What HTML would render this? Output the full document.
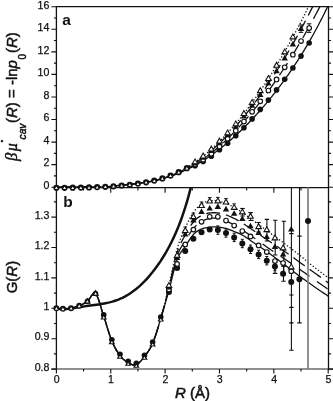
<!DOCTYPE html>
<html><head><meta charset="utf-8"><style>
html,body{margin:0;padding:0;background:#fff;overflow:hidden}
svg{display:block}
</style></head><body>
<svg width="333" height="401" viewBox="0 0 333 401">
<rect width="333" height="401" fill="#fff"/>
<g stroke="#111" stroke-width="1.3" fill="none">
<path d="M56.4,369.6V6.6H328.5V369.6"/>
<path d="M56.4,187.6H328.5" stroke-width="1.2"/>
<path d="M51.4,369H333" stroke-width="1.05" stroke="#222"/>
</g>
<path d="M56.4,187.2h-5M328.5,187.2h5M56.4,175.92h-2.5M328.5,175.92h2.5M56.4,164.64h-5M328.5,164.64h5M56.4,153.36h-2.5M328.5,153.36h2.5M56.4,142.08h-5M328.5,142.08h5M56.4,130.8h-2.5M328.5,130.8h2.5M56.4,119.52h-5M328.5,119.52h5M56.4,108.24h-2.5M328.5,108.24h2.5M56.4,96.96h-5M328.5,96.96h5M56.4,85.68h-2.5M328.5,85.68h2.5M56.4,74.4h-5M328.5,74.4h5M56.4,63.12h-2.5M328.5,63.12h2.5M56.4,51.84h-5M328.5,51.84h5M56.4,40.56h-2.5M328.5,40.56h2.5M56.4,29.28h-5M328.5,29.28h5M56.4,18h-2.5M328.5,18h2.5M56.4,6.72h-5M328.5,6.72h5M56.4,369.1h-5M328.5,369.1h5M56.4,353.9h-2.5M328.5,353.9h2.5M56.4,338.7h-5M328.5,338.7h5M56.4,323.5h-2.5M328.5,323.5h2.5M56.4,308.3h-5M328.5,308.3h5M56.4,293.1h-2.5M328.5,293.1h2.5M56.4,277.9h-5M328.5,277.9h5M56.4,262.7h-2.5M328.5,262.7h2.5M56.4,247.5h-5M328.5,247.5h5M56.4,232.3h-2.5M328.5,232.3h2.5M56.4,217.1h-5M328.5,217.1h5M56.4,201.9h-2.5M328.5,201.9h2.5M56.4,369v4.5M83.58,369v2.4M83.58,187.6v3M110.76,369v4.5M110.76,187.6v5.2M137.94,369v2.4M137.94,187.6v3M165.12,369v4.5M165.12,187.6v5.2M192.3,369v2.4M192.3,187.6v3M219.48,369v4.5M219.48,187.6v5.2M246.66,369v2.4M246.66,187.6v3M273.84,369v4.5M273.84,187.6v5.2M301.02,369v2.4M301.02,187.6v3M328.2,369v4.5" stroke="#111" stroke-width="1.1" fill="none"/>
<g font-family="Liberation Sans, Arial, sans-serif" font-size="10.6" fill="#111" stroke="#111" stroke-width="0.25" text-anchor="end">
<text x="49.4" y="189">0</text>
<text x="49.4" y="166.44">2</text>
<text x="49.4" y="143.88">4</text>
<text x="49.4" y="121.32">6</text>
<text x="49.4" y="98.76">8</text>
<text x="49.4" y="76.2">10</text>
<text x="49.4" y="53.64">12</text>
<text x="49.4" y="31.08">14</text>
<text x="49.4" y="8.52">16</text>
<text x="49.4" y="370.7">0.8</text>
<text x="49.4" y="340.3">0.9</text>
<text x="49.4" y="309.9">1</text>
<text x="49.4" y="279.5">1.1</text>
<text x="49.4" y="249.1">1.2</text>
<text x="49.4" y="218.7">1.3</text>
</g>
<g font-family="Liberation Sans, Arial, sans-serif" font-size="10.6" fill="#111" stroke="#111" stroke-width="0.25" text-anchor="middle">
<text x="56.7" y="382.9">0</text>
<text x="111.06" y="382.9">1</text>
<text x="165.42" y="382.9">2</text>
<text x="219.78" y="382.9">3</text>
<text x="274.14" y="382.9">4</text>
<text x="328.5" y="382.9">5</text>
</g>
<text x="175" y="397.6" font-family="Liberation Sans, Arial, sans-serif" font-size="15" fill="#111" stroke="#111" stroke-width="0.5"><tspan font-style="italic">R</tspan> (Å)</text>
<text transform="translate(17.4,293.3) rotate(-90)" font-family="Liberation Sans, Arial, sans-serif" font-size="15" fill="#111" stroke="#111" stroke-width="0.5">G(<tspan font-style="italic">R</tspan>)</text>
<g transform="translate(17.4,161.3) rotate(-90)">
<text font-family="Liberation Sans, Arial, sans-serif" font-size="15" fill="#111" stroke="#111" stroke-width="0.5"><tspan x="0.3" y="0" font-family="Liberation Serif, serif" font-style="italic" font-size="16.5">β</tspan><tspan x="10" y="0" font-family="Liberation Serif, serif" font-style="italic" font-size="16">μ</tspan><tspan x="19" y="-12.5" font-size="6">*</tspan><tspan x="21.9" y="8.6" font-size="10.2" font-style="italic">cav</tspan><tspan x="38.3" y="0">(<tspan font-style="italic">R</tspan>) = -ln<tspan font-style="italic">p</tspan></tspan><tspan x="101.9" y="8.8" font-size="10">0</tspan><tspan x="108.3" y="0">(<tspan font-style="italic">R</tspan>)</tspan></text>
</g>
<text x="62.3" y="25.3" font-family="Liberation Sans, Arial, sans-serif" font-size="15.5" font-weight="bold" fill="#111">a</text>
<text x="63.2" y="206.9" font-family="Liberation Sans, Arial, sans-serif" font-size="15.5" font-weight="bold" fill="#111">b</text>
<defs><clipPath id="ca"><rect x="56.4" y="6.6" width="272.1" height="180.6"/></clipPath>
<clipPath id="cb"><rect x="56.4" y="187.2" width="272.1" height="181.8"/></clipPath></defs>
<g clip-path="url(#ca)" fill="none" stroke="#111" stroke-width="1.3">
<path d="M331.82,-2.43 L330.32,0.85 L328.82,4.08 L327.32,7.25 L325.82,10.36 L324.32,13.43 L322.82,16.44 L321.32,19.41 L319.82,22.32 L318.32,25.2 L316.82,28.02 L315.32,30.8 L313.82,33.54 L312.32,36.24 L310.82,38.9 L309.32,41.52 L307.82,44.1 L306.32,46.64 L304.82,49.14 L303.32,51.61 L301.82,54.05 L300.32,56.45 L298.82,58.82 L297.32,61.16 L295.82,63.46 L294.32,65.73 L292.82,67.98 L291.32,70.19 L289.82,72.38 L288.32,74.54 L286.82,76.67 L285.32,78.77 L283.82,80.85 L282.32,82.9 L280.82,84.92 L279.32,86.92 L277.82,88.9 L276.32,90.85 L274.82,92.78 L273.32,94.68 L271.82,96.56 L270.32,98.42 L268.82,100.26 L267.32,102.07 L265.82,103.86 L264.32,105.63 L262.82,107.38 L261.32,109.11 L259.82,110.82 L258.32,112.5 L256.82,114.17 L255.32,115.81 L253.82,117.44 L252.32,119.04 L250.82,120.63 L249.32,122.19 L247.82,123.74 L246.32,125.26 L244.82,126.76 L243.32,128.25 L241.82,129.71 L240.32,131.16 L238.82,132.58 L237.32,133.99 L235.82,135.37 L234.32,136.74 L232.82,138.09 L231.32,139.41 L229.82,140.72 L228.32,142.01 L226.82,143.27 L225.32,144.52 L223.82,145.75 L222.32,146.96 L220.82,148.14 L219.32,149.31 L217.82,150.46 L216.32,151.58 L214.82,152.69 L213.32,153.78 L211.82,154.84 L210.32,155.89 L208.82,156.92 L207.32,157.92 L205.82,158.9 L204.32,159.87 L202.82,160.81 L201.32,161.74 L199.82,162.64 L198.32,163.52 L196.82,164.38 L195.32,165.22 L193.82,166.04 L192.32,166.84 L190.82,167.62 L189.32,168.38 L187.82,169.12 L186.32,169.84 L184.82,170.53 L183.32,171.21 L181.82,171.87 L180.32,172.51 L178.82,173.12 L177.32,173.72 L175.82,174.3 L174.32,174.86 L172.82,175.4 L171.32,175.92 L169.82,176.43 L168.32,176.91 L166.82,177.38 L165.32,177.83 L163.82,178.26 L162.32,178.67 L160.82,179.07 L159.32,179.45 L157.82,179.81 L156.32,180.16 L154.82,180.49 L153.32,180.81 L151.82,181.11 L150.32,181.4 L148.82,181.68 L147.32,181.94 L145.82,182.19 L144.32,182.43 L142.82,182.66 L141.32,182.88 L139.82,183.09 L138.32,183.29 L136.82,183.48 L135.32,183.67 L133.82,183.85 L132.32,184.02 L130.82,184.19 L129.32,184.35 L127.82,184.51 L126.32,184.67 L124.82,184.83 L123.32,184.99 L121.82,185.15 L120.32,185.31 L118.82,185.48 L117.32,185.65 L115.82,185.82 L114.32,186.01 L112.82,186.2 L111.32,186.4 L109.82,186.62 L108.32,186.84 L106.82,187.08 L105.32,187.34 L80.86,187 L56.4,187.2" />
<path d="M324.32,-2.19 L322.82,0.8 L321.32,3.76 L319.82,6.69 L318.32,9.59 L316.82,12.45 L315.32,15.29 L313.82,18.1 L312.32,20.88 L310.82,23.63 L309.32,26.35 L307.82,29.05 L306.32,31.71 L304.82,34.36 L303.32,36.97 L301.82,39.56 L300.32,42.12 L298.82,44.66 L297.32,47.18 L295.82,49.66 L294.32,52.13 L292.82,54.57 L291.32,56.99 L289.82,59.38 L288.32,61.75 L286.82,64.09 L285.32,66.42 L283.82,68.72 L282.32,70.99 L280.82,73.25 L279.32,75.48 L277.82,77.69 L276.32,79.87 L274.82,82.04 L273.32,84.18 L271.82,86.3 L270.32,88.4 L268.82,90.47 L267.32,92.53 L265.82,94.56 L264.32,96.57 L262.82,98.55 L261.32,100.52 L259.82,102.46 L258.32,104.38 L256.82,106.28 L255.32,108.15 L253.82,110.01 L252.32,111.84 L250.82,113.65 L249.32,115.44 L247.82,117.2 L246.32,118.94 L244.82,120.66 L243.32,122.35 L241.82,124.03 L240.32,125.68 L238.82,127.3 L237.32,128.91 L235.82,130.49 L234.32,132.05 L232.82,133.58 L231.32,135.09 L229.82,136.58 L228.32,138.04 L226.82,139.48 L225.32,140.9 L223.82,142.29 L222.32,143.66 L220.82,145 L219.32,146.32 L217.82,147.61 L216.32,148.89 L214.82,150.13 L213.32,151.36 L211.82,152.55 L210.32,153.73 L208.82,154.88 L207.32,156 L205.82,157.1 L204.32,158.18 L202.82,159.23 L201.32,160.26 L199.82,161.26 L198.32,162.24 L196.82,163.19 L195.32,164.12 L193.82,165.02 L192.32,165.91 L190.82,166.76 L189.32,167.6 L187.82,168.4 L186.32,169.19 L184.82,169.95 L183.32,170.69 L181.82,171.4 L180.32,172.1 L178.82,172.76 L177.32,173.41 L175.82,174.03 L174.32,174.64 L172.82,175.22 L171.32,175.77 L169.82,176.31 L168.32,176.83 L166.82,177.32 L165.32,177.8 L163.82,178.25 L162.32,178.69 L160.82,179.1 L159.32,179.5 L157.82,179.88 L156.32,180.24 L154.82,180.59 L153.32,180.92 L151.82,181.23 L150.32,181.53 L148.82,181.81 L147.32,182.07 L145.82,182.33 L144.32,182.57 L142.82,182.8 L141.32,183.02 L139.82,183.22 L138.32,183.42 L136.82,183.61 L135.32,183.79 L133.82,183.96 L132.32,184.13 L130.82,184.29 L129.32,184.44 L127.82,184.6 L126.32,184.75 L124.82,184.89 L123.32,185.04 L121.82,185.19 L120.32,185.34 L118.82,185.5 L117.32,185.66 L115.82,185.82 L114.32,185.99 L112.82,186.17 L111.32,186.36 L109.82,186.56 L108.32,186.77 L106.82,187 L105.32,187.24 L80.86,187 L56.4,187.2" stroke-dasharray="14.5,7.5" stroke-dashoffset="12.94"/>
<path d="M318.32,-4.97 L316.82,-1.83 L315.32,1.27 L313.82,4.34 L312.32,7.38 L310.82,10.38 L309.32,13.35 L307.82,16.28 L306.32,19.19 L304.82,22.06 L303.32,24.91 L301.82,27.72 L300.32,30.51 L298.82,33.26 L297.32,35.99 L295.82,38.69 L294.32,41.36 L292.82,44 L291.32,46.62 L289.82,49.21 L288.32,51.78 L286.82,54.32 L285.32,56.83 L283.82,59.32 L282.32,61.78 L280.82,64.22 L279.32,66.63 L277.82,69.02 L276.32,71.39 L274.82,73.73 L273.32,76.04 L271.82,78.33 L270.32,80.6 L268.82,82.85 L267.32,85.07 L265.82,87.26 L264.32,89.44 L262.82,91.59 L261.32,93.71 L259.82,95.81 L258.32,97.89 L256.82,99.95 L255.32,101.98 L253.82,103.98 L252.32,105.97 L250.82,107.93 L249.32,109.86 L247.82,111.77 L246.32,113.66 L244.82,115.52 L243.32,117.36 L241.82,119.18 L240.32,120.97 L238.82,122.73 L237.32,124.48 L235.82,126.19 L234.32,127.88 L232.82,129.55 L231.32,131.19 L229.82,132.81 L228.32,134.4 L226.82,135.97 L225.32,137.51 L223.82,139.02 L222.32,140.51 L220.82,141.98 L219.32,143.42 L217.82,144.83 L216.32,146.21 L214.82,147.57 L213.32,148.91 L211.82,150.21 L210.32,151.49 L208.82,152.75 L207.32,153.98 L205.82,155.18 L204.32,156.35 L202.82,157.5 L201.32,158.62 L199.82,159.72 L198.32,160.78 L196.82,161.82 L195.32,162.84 L193.82,163.83 L192.32,164.79 L190.82,165.73 L189.32,166.63 L187.82,167.52 L186.32,168.37 L184.82,169.2 L183.32,170.01 L181.82,170.79 L180.32,171.54 L178.82,172.27 L177.32,172.97 L175.82,173.65 L174.32,174.3 L172.82,174.93 L171.32,175.53 L169.82,176.11 L168.32,176.67 L166.82,177.21 L165.32,177.72 L163.82,178.2 L162.32,178.67 L160.82,179.12 L159.32,179.54 L157.82,179.94 L156.32,180.33 L154.82,180.69 L153.32,181.04 L151.82,181.36 L150.32,181.67 L148.82,181.96 L147.32,182.24 L145.82,182.5 L144.32,182.74 L142.82,182.98 L141.32,183.19 L139.82,183.4 L138.32,183.59 L136.82,183.78 L135.32,183.95 L133.82,184.11 L132.32,184.27 L130.82,184.42 L129.32,184.56 L127.82,184.7 L126.32,184.84 L124.82,184.97 L123.32,185.11 L121.82,185.24 L120.32,185.38 L118.82,185.51 L117.32,185.66 L115.82,185.81 L114.32,185.96 L112.82,186.12 L111.32,186.3 L109.82,186.49 L108.32,186.68 L106.82,186.9 L105.32,187.13 L80.86,187 L56.4,187.2" stroke-dasharray="11,6" stroke-dashoffset="5.24"/>
<path d="M313.82,-4.45 L312.32,-1.28 L310.82,1.86 L309.32,4.96 L307.82,8.04 L306.32,11.08 L304.82,14.09 L303.32,17.07 L301.82,20.02 L300.32,22.94 L298.82,25.83 L297.32,28.69 L295.82,31.52 L294.32,34.33 L292.82,37.11 L291.32,39.86 L289.82,42.58 L288.32,45.28 L286.82,47.95 L285.32,50.59 L283.82,53.21 L282.32,55.8 L280.82,58.36 L279.32,60.9 L277.82,63.42 L276.32,65.91 L274.82,68.37 L273.32,70.81 L271.82,73.22 L270.32,75.61 L268.82,77.97 L267.32,80.31 L265.82,82.63 L264.32,84.91 L262.82,87.18 L261.32,89.42 L259.82,91.63 L258.32,93.82 L256.82,95.98 L255.32,98.12 L253.82,100.23 L252.32,102.32 L250.82,104.38 L249.32,106.42 L247.82,108.43 L246.32,110.42 L244.82,112.38 L243.32,114.31 L241.82,116.22 L240.32,118.1 L238.82,119.96 L237.32,121.79 L235.82,123.6 L234.32,125.37 L232.82,127.13 L231.32,128.85 L229.82,130.55 L228.32,132.22 L226.82,133.87 L225.32,135.48 L223.82,137.07 L222.32,138.64 L220.82,140.17 L219.32,141.68 L217.82,143.16 L216.32,144.62 L214.82,146.04 L213.32,147.44 L211.82,148.81 L210.32,150.16 L208.82,151.47 L207.32,152.76 L205.82,154.02 L204.32,155.25 L202.82,156.45 L201.32,157.62 L199.82,158.77 L198.32,159.89 L196.82,160.98 L195.32,162.04 L193.82,163.08 L192.32,164.08 L190.82,165.06 L189.32,166.01 L187.82,166.94 L186.32,167.83 L184.82,168.7 L183.32,169.54 L181.82,170.36 L180.32,171.14 L178.82,171.91 L177.32,172.64 L175.82,173.35 L174.32,174.03 L172.82,174.69 L171.32,175.32 L169.82,175.92 L168.32,176.51 L166.82,177.06 L165.32,177.6 L163.82,178.11 L162.32,178.59 L160.82,179.06 L159.32,179.5 L157.82,179.92 L156.32,180.32 L154.82,180.7 L153.32,181.06 L151.82,181.39 L150.32,181.71 L148.82,182.02 L147.32,182.3 L145.82,182.57 L144.32,182.82 L142.82,183.06 L141.32,183.28 L139.82,183.49 L138.32,183.69 L136.82,183.87 L135.32,184.05 L133.82,184.21 L132.32,184.37 L130.82,184.52 L129.32,184.66 L127.82,184.8 L126.32,184.93 L124.82,185.06 L123.32,185.18 L121.82,185.31 L120.32,185.43 L118.82,185.56 L117.32,185.69 L115.82,185.83 L114.32,185.97 L112.82,186.12 L111.32,186.28 L109.82,186.45 L108.32,186.63 L106.82,186.83 L105.32,187.04 L80.86,187 L56.4,187.2" stroke-dasharray="1.3,1.9" stroke-dashoffset="1.75"/>
</g>
<g><path d="M301,24.9V32.4M298.8,24.9h4.4M298.8,32.4h4.4M309.1,23.8V32.4M306.9,23.8h4.4M306.9,32.4h4.4" stroke="#111" stroke-width="1" fill="none"/><circle cx="56.4" cy="187.8" r="3.1" fill="#111"/><path d="M56.4,186.59L57.85,189.11L54.95,189.11Z" fill="#fff"/><circle cx="64.55" cy="187.8" r="3.1" fill="#111"/><path d="M64.55,186.59L66,189.11L63.1,189.11Z" fill="#fff"/><circle cx="72.71" cy="187.7" r="3.1" fill="#111"/><path d="M72.71,186.49L74.16,189.01L71.26,189.01Z" fill="#fff"/><circle cx="80.86" cy="187.6" r="3.1" fill="#111"/><path d="M80.86,186.39L82.31,188.91L79.41,188.91Z" fill="#fff"/><circle cx="89.02" cy="187.4" r="3.1" fill="#111"/><path d="M89.02,186.19L90.47,188.71L87.57,188.71Z" fill="#fff"/><circle cx="97.17" cy="187.1" r="3.1" fill="#111"/><path d="M97.17,185.89L98.62,188.41L95.72,188.41Z" fill="#fff"/><circle cx="105.32" cy="186.8" r="3.1" fill="#111"/><path d="M105.32,185.59L106.77,188.11L103.87,188.11Z" fill="#fff"/><circle cx="113.48" cy="186.3" r="3.1" fill="#111"/><path d="M113.48,185.09L114.93,187.61L112.03,187.61Z" fill="#fff"/><circle cx="121.63" cy="185.5" r="3.1" fill="#111"/><path d="M121.63,184.29L123.08,186.81L120.18,186.81Z" fill="#fff"/><circle cx="129.79" cy="184.8" r="3.1" fill="#111"/><path d="M129.79,183.59L131.24,186.11L128.34,186.11Z" fill="#fff"/><circle cx="137.94" cy="183.6" r="3.1" fill="#111"/><path d="M137.94,182.39L139.39,184.91L136.49,184.91Z" fill="#fff"/><circle cx="146.09" cy="182.3" r="3.1" fill="#111"/><path d="M146.09,181.09L147.54,183.61L144.64,183.61Z" fill="#fff"/><circle cx="154.25" cy="180.6" r="3.1" fill="#111"/><path d="M154.25,179.39L155.7,181.91L152.8,181.91Z" fill="#fff"/><circle cx="162.4" cy="178.4" r="3.1" fill="#111"/><path d="M162.4,177.19L163.85,179.71L160.95,179.71Z" fill="#fff"/><circle cx="170.56" cy="175.6" r="3.1" fill="#111"/><path d="M170.56,174.39L172.01,176.91L169.11,176.91Z" fill="#fff"/><circle cx="178.71" cy="172.2" r="3.1" fill="#111"/><path d="M178.71,170.99L180.16,173.51L177.26,173.51Z" fill="#fff"/><circle cx="186.86" cy="168.2" r="3.1" fill="#111"/><path d="M186.86,166.99L188.31,169.51L185.41,169.51Z" fill="#fff"/><circle cx="195.02" cy="165.8" r="2.8" fill="#111"/><circle cx="195.02" cy="164.6" r="2.3" fill="#fff" stroke="#111" stroke-width="1.15"/><path d="M195.02,159.85L198.22,165.42L191.82,165.42Z" fill="#111"/><path d="M195.02,158.98L197.82,163.85L192.22,163.85Z" fill="#fff" stroke="#111" stroke-width="1.1" stroke-linejoin="miter"/><circle cx="203.17" cy="161.4" r="2.8" fill="#111"/><circle cx="203.17" cy="159.8" r="2.3" fill="#fff" stroke="#111" stroke-width="1.15"/><path d="M203.17,154.15L206.37,159.72L199.97,159.72Z" fill="#111"/><path d="M203.17,153.08L205.97,157.95L200.37,157.95Z" fill="#fff" stroke="#111" stroke-width="1.1" stroke-linejoin="miter"/><circle cx="211.33" cy="156.2" r="2.8" fill="#111"/><circle cx="211.33" cy="153.8" r="2.3" fill="#fff" stroke="#111" stroke-width="1.15"/><path d="M211.33,147.35L214.53,152.92L208.13,152.92Z" fill="#111"/><path d="M211.33,146.18L214.13,151.05L208.53,151.05Z" fill="#fff" stroke="#111" stroke-width="1.1" stroke-linejoin="miter"/><circle cx="219.48" cy="149.8" r="2.8" fill="#111"/><circle cx="219.48" cy="146.4" r="2.3" fill="#fff" stroke="#111" stroke-width="1.15"/><path d="M219.48,139.75L222.68,145.32L216.28,145.32Z" fill="#111"/><path d="M219.48,138.18L222.28,143.05L216.68,143.05Z" fill="#fff" stroke="#111" stroke-width="1.1" stroke-linejoin="miter"/><circle cx="227.63" cy="143.2" r="2.8" fill="#111"/><circle cx="227.63" cy="138.8" r="2.3" fill="#fff" stroke="#111" stroke-width="1.15"/><path d="M227.63,131.75L230.83,137.32L224.43,137.32Z" fill="#111"/><path d="M227.63,129.98L230.43,134.85L224.83,134.85Z" fill="#fff" stroke="#111" stroke-width="1.1" stroke-linejoin="miter"/><circle cx="235.79" cy="135.8" r="2.8" fill="#111"/><circle cx="235.79" cy="130.8" r="2.3" fill="#fff" stroke="#111" stroke-width="1.15"/><path d="M235.79,123.15L238.99,128.72L232.59,128.72Z" fill="#111"/><path d="M235.79,120.98L238.59,125.85L232.99,125.85Z" fill="#fff" stroke="#111" stroke-width="1.1" stroke-linejoin="miter"/><circle cx="243.94" cy="127.8" r="2.8" fill="#111"/><circle cx="243.94" cy="121.6" r="2.3" fill="#fff" stroke="#111" stroke-width="1.15"/><path d="M243.94,112.95L247.14,118.52L240.74,118.52Z" fill="#111"/><path d="M243.94,110.58L246.74,115.45L241.14,115.45Z" fill="#fff" stroke="#111" stroke-width="1.1" stroke-linejoin="miter"/><circle cx="252.1" cy="118.9" r="2.8" fill="#111"/><circle cx="252.1" cy="111.8" r="2.3" fill="#fff" stroke="#111" stroke-width="1.15"/><path d="M252.1,102.15L255.3,107.72L248.9,107.72Z" fill="#111"/><path d="M252.1,99.48L254.9,104.35L249.3,104.35Z" fill="#fff" stroke="#111" stroke-width="1.1" stroke-linejoin="miter"/><circle cx="260.25" cy="109.4" r="2.8" fill="#111"/><circle cx="260.25" cy="101.3" r="2.3" fill="#fff" stroke="#111" stroke-width="1.15"/><path d="M260.25,91.35L263.45,96.92L257.05,96.92Z" fill="#111"/><path d="M260.25,87.78L263.05,92.65L257.45,92.65Z" fill="#fff" stroke="#111" stroke-width="1.1" stroke-linejoin="miter"/><circle cx="268.4" cy="100.1" r="2.8" fill="#111"/><circle cx="268.4" cy="90.5" r="2.3" fill="#fff" stroke="#111" stroke-width="1.15"/><path d="M268.4,80.05L271.6,85.62L265.2,85.62Z" fill="#111"/><path d="M268.4,75.58L271.2,80.45L265.6,80.45Z" fill="#fff" stroke="#111" stroke-width="1.1" stroke-linejoin="miter"/><circle cx="276.56" cy="89.9" r="2.8" fill="#111"/><circle cx="276.56" cy="79.4" r="2.3" fill="#fff" stroke="#111" stroke-width="1.15"/><path d="M276.56,67.75L279.76,73.32L273.36,73.32Z" fill="#111"/><path d="M276.56,62.38L279.36,67.25L273.76,67.25Z" fill="#fff" stroke="#111" stroke-width="1.1" stroke-linejoin="miter"/><circle cx="284.71" cy="79.2" r="2.8" fill="#111"/><circle cx="284.71" cy="67.3" r="2.3" fill="#fff" stroke="#111" stroke-width="1.15"/><path d="M284.71,54.85L287.91,60.42L281.51,60.42Z" fill="#111"/><path d="M284.71,48.98L287.51,53.85L281.91,53.85Z" fill="#fff" stroke="#111" stroke-width="1.1" stroke-linejoin="miter"/><circle cx="292.87" cy="68" r="2.8" fill="#111"/><circle cx="292.87" cy="54.7" r="2.3" fill="#fff" stroke="#111" stroke-width="1.15"/><path d="M292.87,40.85L296.07,46.42L289.67,46.42Z" fill="#111"/><path d="M292.87,33.98L295.67,38.85L290.07,38.85Z" fill="#fff" stroke="#111" stroke-width="1.1" stroke-linejoin="miter"/><circle cx="301.02" cy="56.1" r="2.8" fill="#111"/><circle cx="301.02" cy="41" r="2.3" fill="#fff" stroke="#111" stroke-width="1.15"/><path d="M301.02,25.35L304.22,30.92L297.82,30.92Z" fill="#111"/><circle cx="309.17" cy="43" r="2.8" fill="#111"/><circle cx="309.17" cy="28" r="2.3" fill="#fff" stroke="#111" stroke-width="1.15"/></g>
<g clip-path="url(#cb)" fill="none" stroke="#111" stroke-width="1.3">
<path d="M56.4,308.3 L57.09,308.37 L58.03,308.47 L59.15,308.59 L60.39,308.7 L61.67,308.77 L62.92,308.8 L64.19,308.78 L65.52,308.75 L66.9,308.68 L68.3,308.57 L69.7,308.42 L71.08,308.2 L72.44,307.93 L73.8,307.61 L75.16,307.24 L76.51,306.82 L77.87,306.34 L79.23,305.8 L80.59,305.21 L81.95,304.58 L83.31,303.89 L84.67,303.12 L86.03,302.27 L87.39,301.3 L88.74,299.84 L90.1,297.81 L91.46,295.7 L92.82,293.96 L94.18,293.07 L95.54,293.5 L96.9,295.49 L98.26,298.73 L99.62,302.81 L100.98,307.35 L102.34,311.94 L103.69,316.2 L105.05,320.33 L106.41,324.69 L107.77,329.11 L109.13,333.41 L110.49,337.43 L111.85,341 L113.21,344.11 L114.57,346.9 L115.93,349.41 L117.28,351.67 L118.64,353.72 L120,355.6 L121.36,357.26 L122.72,358.68 L124.08,359.89 L125.44,360.92 L126.8,361.81 L128.16,362.6 L129.52,363.34 L130.87,364.01 L132.23,364.54 L133.59,364.86 L134.95,364.9 L136.31,364.6 L137.67,363.91 L139.03,362.87 L140.39,361.56 L141.75,360.03 L143.11,358.36 L144.46,356.6 L145.82,354.82 L147.18,352.99 L148.54,351.01 L149.9,348.79 L151.26,346.25 L152.62,343.3 L153.98,339.86 L155.34,335.97 L156.7,331.76 L158.06,327.35 L159.41,322.86 L160.77,318.4 L162.13,313.96 L163.48,309.44 L164.83,304.83 L166.19,300.14 L167.54,295.36 L168.9,290.5 L170.26,285.3 L171.63,279.73 L173,274.07 L174.37,268.61 L175.74,263.66 L177.1,259.5 L178.45,256.28 L179.8,253.8 L181.15,251.81 L182.5,250.09 L183.85,248.4 L185.2,246.5 L186.56,244.37 L187.93,242.19 L189.3,240.03 L190.67,237.98 L192.04,236.11 L193.4,234.5 L194.75,233.16 L196.1,232.05 L197.45,231.11 L198.8,230.32 L200.15,229.63 L201.5,229 L202.86,228.47 L204.23,228.07 L205.59,227.77 L206.96,227.54 L208.33,227.36 L209.7,227.2 L211.07,227.05 L212.44,226.95 L213.81,226.89 L215.17,226.88 L216.54,226.92 L217.9,227 L219.25,227.13 L220.6,227.32 L221.95,227.55 L223.3,227.83 L224.65,228.14 L226,228.5 L227.36,228.91 L228.73,229.37 L230.1,229.88 L231.47,230.41 L232.84,230.95 L234.2,231.5 L235.55,232.03 L236.9,232.56 L238.25,233.09 L239.6,233.67 L240.95,234.3 L242.3,235 L243.66,235.8 L245.03,236.69 L246.4,237.62 L247.77,238.59 L249.14,239.56 L250.5,240.5 L251.85,241.42 L253.2,242.33 L254.55,243.25 L255.9,244.17 L257.25,245.08 L258.6,246 L259.96,246.91 L261.33,247.81 L262.7,248.72 L264.07,249.63 L265.44,250.55 L266.8,251.5 L268.15,252.47 L269.5,253.46 L270.85,254.47 L272.2,255.48 L273.55,256.49 L274.9,257.5 L276.26,258.49 L277.63,259.48 L278.99,260.47 L280.36,261.46 L281.73,262.47 L283.1,263.5 L284.46,264.55 L285.81,265.63 L287.17,266.72 L288.53,267.81 L289.9,268.91 L291.3,270 L292.66,271.04 L293.97,272.04 L295.29,273.03 L296.69,274.07 L298.24,275.21 L300,276.5 L302.02,277.97 L304.27,279.59 L306.66,281.31 L309.12,283.07 L311.59,284.82 L314,286.5 L316.45,288.19 L319.03,289.94 L321.61,291.68 L324.08,293.34 L326.32,294.83 L328.2,296.1 L329.72,297.12 L330.97,297.97 L331.99,298.65 L332.81,299.2 L333.47,299.64 L334,300" />
<path d="M56.4,308.3 L57.09,308.37 L58.03,308.47 L59.15,308.59 L60.39,308.7 L61.67,308.77 L62.92,308.8 L64.19,308.78 L65.52,308.75 L66.9,308.68 L68.3,308.57 L69.7,308.42 L71.08,308.2 L72.44,307.93 L73.8,307.61 L75.16,307.24 L76.51,306.82 L77.87,306.34 L79.23,305.8 L80.59,305.21 L81.95,304.58 L83.31,303.89 L84.67,303.12 L86.03,302.27 L87.39,301.3 L88.74,299.84 L90.1,297.81 L91.46,295.7 L92.82,293.96 L94.18,293.07 L95.54,293.5 L96.9,295.49 L98.26,298.73 L99.62,302.81 L100.98,307.35 L102.34,311.94 L103.69,316.2 L105.05,320.33 L106.41,324.69 L107.77,329.11 L109.13,333.41 L110.49,337.43 L111.85,341 L113.21,344.11 L114.57,346.9 L115.93,349.41 L117.28,351.67 L118.64,353.72 L120,355.6 L121.36,357.26 L122.72,358.68 L124.08,359.89 L125.44,360.92 L126.8,361.81 L128.16,362.6 L129.52,363.34 L130.87,364.01 L132.23,364.54 L133.59,364.86 L134.95,364.9 L136.31,364.6 L137.67,363.91 L139.03,362.87 L140.39,361.56 L141.75,360.03 L143.11,358.36 L144.46,356.6 L145.82,354.82 L147.18,352.99 L148.54,351.01 L149.9,348.79 L151.26,346.25 L152.62,343.3 L153.98,339.87 L155.34,336.03 L156.7,331.86 L158.06,327.46 L159.41,322.94 L160.77,318.4 L162.13,313.8 L163.48,309.07 L164.83,304.21 L166.19,299.23 L167.54,294.16 L168.9,289 L170.26,283.5 L171.63,277.6 L173,271.6 L174.37,265.8 L175.74,260.5 L177.1,256 L178.45,252.43 L179.8,249.57 L181.15,247.22 L182.5,245.15 L183.85,243.15 L185.2,241 L186.56,238.71 L187.93,236.44 L189.3,234.25 L190.67,232.17 L192.04,230.24 L193.4,228.5 L194.75,226.97 L196.1,225.61 L197.45,224.41 L198.8,223.33 L200.15,222.37 L201.5,221.5 L202.86,220.73 L204.23,220.09 L205.59,219.56 L206.96,219.13 L208.33,218.78 L209.7,218.5 L211.07,218.3 L212.44,218.19 L213.81,218.16 L215.17,218.2 L216.54,218.32 L217.9,218.5 L219.25,218.75 L220.6,219.09 L221.95,219.5 L223.3,219.96 L224.65,220.47 L226,221 L227.36,221.57 L228.73,222.19 L230.1,222.84 L231.47,223.54 L232.84,224.26 L234.2,225 L235.55,225.77 L236.9,226.57 L238.25,227.41 L239.6,228.26 L240.95,229.13 L242.3,230 L243.66,230.89 L245.03,231.8 L246.4,232.72 L247.77,233.65 L249.14,234.58 L250.5,235.5 L251.85,236.41 L253.2,237.31 L254.55,238.22 L255.9,239.13 L257.25,240.05 L258.6,241 L259.96,241.98 L261.33,242.98 L262.7,244 L264.07,245.02 L265.44,246.02 L266.8,247 L268.15,247.95 L269.5,248.87 L270.85,249.78 L272.2,250.69 L273.55,251.59 L274.9,252.5 L276.26,253.42 L277.63,254.33 L278.99,255.25 L280.36,256.17 L281.73,257.08 L283.1,258 L284.46,258.91 L285.81,259.81 L287.17,260.72 L288.53,261.63 L289.9,262.55 L291.3,263.5 L292.66,264.42 L293.97,265.31 L295.29,266.22 L296.69,267.19 L298.24,268.26 L300,269.5 L302.02,270.94 L304.27,272.54 L306.66,274.26 L309.12,276.03 L311.59,277.79 L314,279.5 L316.45,281.22 L319.03,283.02 L321.61,284.82 L324.08,286.53 L326.32,288.09 L328.2,289.4 L329.72,290.47 L330.97,291.35 L331.99,292.07 L332.81,292.65 L333.47,293.12 L334,293.5" stroke-dasharray="13,9" stroke-dashoffset="13.01"/>
<path d="M56.4,308.3 L57.09,308.37 L58.03,308.47 L59.15,308.59 L60.39,308.7 L61.67,308.77 L62.92,308.8 L64.19,308.78 L65.52,308.75 L66.9,308.68 L68.3,308.57 L69.7,308.42 L71.08,308.2 L72.44,307.93 L73.8,307.61 L75.16,307.24 L76.51,306.82 L77.87,306.34 L79.23,305.8 L80.59,305.21 L81.95,304.58 L83.31,303.89 L84.67,303.12 L86.03,302.27 L87.39,301.3 L88.74,299.84 L90.1,297.81 L91.46,295.7 L92.82,293.96 L94.18,293.07 L95.54,293.5 L96.9,295.49 L98.26,298.73 L99.62,302.81 L100.98,307.35 L102.34,311.94 L103.69,316.2 L105.05,320.33 L106.41,324.69 L107.77,329.11 L109.13,333.41 L110.49,337.43 L111.85,341 L113.21,344.11 L114.57,346.9 L115.93,349.41 L117.28,351.67 L118.64,353.72 L120,355.6 L121.36,357.26 L122.72,358.68 L124.08,359.89 L125.44,360.92 L126.8,361.81 L128.16,362.6 L129.52,363.34 L130.87,364.01 L132.23,364.54 L133.59,364.86 L134.95,364.9 L136.31,364.6 L137.67,363.91 L139.03,362.87 L140.39,361.56 L141.75,360.03 L143.11,358.36 L144.46,356.6 L145.82,354.82 L147.18,352.99 L148.54,351.01 L149.9,348.79 L151.26,346.25 L152.62,343.3 L153.98,339.89 L155.34,336.08 L156.7,331.95 L158.06,327.57 L159.41,323.03 L160.77,318.4 L162.13,313.64 L163.48,308.7 L164.83,303.58 L166.19,298.33 L167.54,292.96 L168.9,287.5 L170.26,281.7 L171.63,275.49 L173,269.16 L174.37,263.02 L175.74,257.37 L177.1,252.5 L178.45,248.52 L179.8,245.2 L181.15,242.38 L182.5,239.85 L183.85,237.45 L185.2,235 L186.56,232.5 L187.93,230.09 L189.3,227.81 L190.67,225.69 L192.04,223.74 L193.4,222 L194.75,220.49 L196.1,219.2 L197.45,218.09 L198.8,217.13 L200.15,216.28 L201.5,215.5 L202.86,214.82 L204.23,214.28 L205.59,213.84 L206.96,213.5 L208.33,213.23 L209.7,213 L211.07,212.83 L212.44,212.74 L213.81,212.72 L215.17,212.76 L216.54,212.86 L217.9,213 L219.25,213.2 L220.6,213.46 L221.95,213.78 L223.3,214.15 L224.65,214.56 L226,215 L227.36,215.48 L228.73,216.02 L230.1,216.59 L231.47,217.2 L232.84,217.84 L234.2,218.5 L235.55,219.18 L236.9,219.89 L238.25,220.62 L239.6,221.39 L240.95,222.18 L242.3,223 L243.66,223.86 L245.03,224.76 L246.4,225.69 L247.77,226.63 L249.14,227.57 L250.5,228.5 L251.85,229.42 L253.2,230.33 L254.55,231.25 L255.9,232.17 L257.25,233.08 L258.6,234 L259.96,234.92 L261.33,235.83 L262.7,236.75 L264.07,237.67 L265.44,238.58 L266.8,239.5 L268.15,240.42 L269.5,241.33 L270.85,242.25 L272.2,243.17 L273.55,244.08 L274.9,245 L276.26,245.92 L277.63,246.83 L278.99,247.75 L280.36,248.67 L281.73,249.58 L283.1,250.5 L284.46,251.41 L285.81,252.3 L287.17,253.19 L288.53,254.09 L289.9,255.03 L291.3,256 L292.66,256.98 L293.97,257.96 L295.29,258.97 L296.69,260.04 L298.24,261.2 L300,262.5 L302.02,263.96 L304.27,265.56 L306.66,267.26 L309.12,269.01 L311.59,270.78 L314,272.5 L316.45,274.27 L319.03,276.14 L321.61,278.01 L324.08,279.81 L326.32,281.43 L328.2,282.8 L329.72,283.9 L330.97,284.81 L331.99,285.54 L332.81,286.14 L333.47,286.61 L334,287" stroke-dasharray="14,6" stroke-dashoffset="16.99"/>
<path d="M56.4,308.3 L57.09,308.37 L58.03,308.47 L59.15,308.59 L60.39,308.7 L61.67,308.77 L62.92,308.8 L64.19,308.78 L65.52,308.75 L66.9,308.68 L68.3,308.57 L69.7,308.42 L71.08,308.2 L72.44,307.93 L73.8,307.61 L75.16,307.24 L76.51,306.82 L77.87,306.34 L79.23,305.8 L80.59,305.21 L81.95,304.58 L83.31,303.89 L84.67,303.12 L86.03,302.27 L87.39,301.3 L88.74,299.84 L90.1,297.81 L91.46,295.7 L92.82,293.96 L94.18,293.07 L95.54,293.5 L96.9,295.49 L98.26,298.73 L99.62,302.81 L100.98,307.35 L102.34,311.94 L103.69,316.2 L105.05,320.33 L106.41,324.69 L107.77,329.11 L109.13,333.41 L110.49,337.43 L111.85,341 L113.21,344.11 L114.57,346.9 L115.93,349.41 L117.28,351.67 L118.64,353.72 L120,355.6 L121.36,357.26 L122.72,358.68 L124.08,359.89 L125.44,360.92 L126.8,361.81 L128.16,362.6 L129.52,363.34 L130.87,364.01 L132.23,364.54 L133.59,364.86 L134.95,364.9 L136.31,364.6 L137.67,363.91 L139.03,362.87 L140.39,361.56 L141.75,360.03 L143.11,358.36 L144.46,356.6 L145.82,354.82 L147.18,352.99 L148.54,351.01 L149.9,348.79 L151.26,346.25 L152.62,343.3 L153.98,339.91 L155.34,336.14 L156.7,332.04 L158.06,327.69 L159.41,323.12 L160.77,318.4 L162.13,313.49 L163.48,308.33 L164.83,302.96 L166.19,297.42 L167.54,291.75 L168.9,286 L170.26,279.91 L171.63,273.41 L173,266.79 L174.37,260.32 L175.74,254.29 L177.1,249 L178.45,244.51 L179.8,240.61 L181.15,237.16 L182.5,234 L183.85,231 L185.2,228 L186.56,225.02 L187.93,222.17 L189.3,219.47 L190.67,216.94 L192.04,214.61 L193.4,212.5 L194.75,210.61 L196.1,208.94 L197.45,207.47 L198.8,206.17 L200.15,205.02 L201.5,204 L202.86,203.15 L204.23,202.48 L205.59,201.97 L206.96,201.57 L208.33,201.26 L209.7,201 L211.07,200.8 L212.44,200.69 L213.81,200.66 L215.17,200.7 L216.54,200.82 L217.9,201 L219.25,201.25 L220.6,201.59 L221.95,202 L223.3,202.46 L224.65,202.97 L226,203.5 L227.36,204.07 L228.73,204.69 L230.1,205.34 L231.47,206.04 L232.84,206.76 L234.2,207.5 L235.55,208.26 L236.9,209.06 L238.25,209.88 L239.6,210.72 L240.95,211.6 L242.3,212.5 L243.66,213.44 L245.03,214.43 L246.4,215.44 L247.77,216.46 L249.14,217.49 L250.5,218.5 L251.85,219.5 L253.2,220.5 L254.55,221.5 L255.9,222.5 L257.25,223.5 L258.6,224.5 L259.96,225.5 L261.33,226.5 L262.7,227.5 L264.07,228.5 L265.44,229.5 L266.8,230.5 L268.15,231.5 L269.5,232.5 L270.85,233.5 L272.2,234.5 L273.55,235.5 L274.9,236.5 L276.24,237.48 L277.56,238.44 L278.89,239.41 L280.24,240.39 L281.63,241.41 L283.1,242.5 L284.69,243.69 L286.38,244.96 L288.12,246.28 L289.85,247.59 L291.5,248.85 L293,250 L294.25,250.96 L295.29,251.76 L296.24,252.5 L297.26,253.3 L298.46,254.26 L300,255.5 L301.93,257.08 L304.14,258.91 L306.55,260.92 L309.06,263 L311.57,265.05 L314,267 L316.45,268.92 L319.03,270.9 L321.61,272.86 L324.08,274.71 L326.32,276.39 L328.2,277.8 L329.72,278.93 L330.97,279.84 L331.99,280.58 L332.81,281.16 L333.47,281.62 L334,282" stroke-dasharray="1.3,2" stroke-dashoffset="1.53"/>
<path d="M56.4,308.26 L58.4,308.74 L60.4,309.02 L62.4,309.13 L64.4,309.11 L66.4,308.99 L68.4,308.79 L70.4,308.54 L72.4,308.25 L74.4,307.94 L76.4,307.62 L78.4,307.3 L80.4,306.98 L82.4,306.67 L84.4,306.38 L86.4,306.09 L88.4,305.81 L90.4,305.54 L92.4,305.28 L94.4,305.01 L96.4,304.74 L98.4,304.45 L100.4,304.15 L102.4,303.83 L104.4,303.47 L106.4,303.07 L108.4,302.63 L110.4,302.14 L112.4,301.59 L114.4,300.98 L116.4,300.3 L118.4,299.55 L120.4,298.71 L122.4,297.8 L124.4,296.79 L126.4,295.7 L128.4,294.51 L130.4,293.23 L132.4,291.84 L134.4,290.36 L136.4,288.78 L138.4,287.1 L140.4,285.31 L142.4,283.42 L144.4,281.42 L146.4,279.31 L148.4,277.1 L150.4,274.77 L152.4,272.33 L154.4,269.77 L156.4,267.09 L158.4,264.28 L160.4,261.34 L162.4,258.25 L164.4,255.01 L166.4,251.6 L168.4,248.01 L170,245 L170.5,244.03 L171,243.05 L171.5,242.05 L172,241.03 L172.5,240.01 L173,238.96 L173.5,237.91 L174,236.83 L174.5,235.74 L175,234.63 L175.5,233.51 L176,232.37 L176.5,231.2 L177,230.02 L177.5,228.82 L178,227.61 L178.5,226.37 L179,225.1 L179.5,223.82 L180,222.52 L180.5,221.19 L181,219.84 L181.5,218.46 L182,217.06 L182.5,215.64 L183,214.18 L183.5,212.71 L184,211.2 L184.5,209.66 L185,208.1 L185.5,206.5 L186,204.88 L186.5,203.22 L187,201.53 L187.5,199.81 L188,198.05 L188.5,196.26 L189,194.43 L189.5,192.56 L190,190.65 L190.5,188.71 L191,186.72 L191.5,184.69 L192,182.62 L192.5,180.5" stroke-width="2.5"/>
</g>
<g clip-path="url(#cb)"><path d="M242.6,208.5V216M240.4,208.5h4.4M240.4,216h4.4M250.7,212.5V220.5M248.5,212.5h4.4M248.5,220.5h4.4M258.6,222.5V232M256.4,222.5h4.4M256.4,232h4.4M266.9,219.4V241M264.7,219.4h4.4M264.7,241h4.4M275.2,220.2V255M273,220.2h4.4M273,255h4.4M283.8,221.3V275M281.6,221.3h4.4M281.6,275h4.4M275,262V273.4M272.8,262h4.4M272.8,273.4h4.4M283.5,266.5V281.2M281.3,266.5h4.4M281.3,281.2h4.4M291.4,180V350.3M289.2,180h4.4M289.2,350.3h4.4M289.2,295h4.4M289.2,307.4h4.4M289.2,322.9h4.4M289.2,233.6h4.4M299.5,180V322.9M297.3,180h4.4M297.3,322.9h4.4M297.3,236.1h4.4" stroke="#111" stroke-width="1.1" fill="none"/>
<path d="M308,187V369" stroke="#777" stroke-width="1.6"/></g>
<g><circle cx="56.4" cy="308.3" r="3" fill="#111"/><path d="M56.4,307.03L57.9,309.64L54.9,309.64Z" fill="#fff"/><circle cx="62.92" cy="308.8" r="3" fill="#111"/><path d="M62.92,307.53L64.42,310.14L61.42,310.14Z" fill="#fff"/><circle cx="71.08" cy="308.2" r="3" fill="#111"/><path d="M71.08,306.93L72.58,309.54L69.58,309.54Z" fill="#fff"/><circle cx="79.23" cy="305.8" r="3" fill="#111"/><path d="M79.23,304.53L80.73,307.14L77.73,307.14Z" fill="#fff"/><path d="M87.39,297.42L90.99,303.68L83.79,303.68Z" fill="#111"/><circle cx="87.39" cy="301.3" r="2.7" fill="#111"/><path d="M87.39,300.14L88.79,302.57L85.99,302.57Z" fill="#fff"/><path d="M95.54,289.62L99.14,295.88L91.94,295.88Z" fill="#111"/><circle cx="95.54" cy="293.5" r="2.7" fill="#111"/><path d="M95.54,292.34L96.94,294.77L94.14,294.77Z" fill="#fff"/><circle cx="103.69" cy="314.9" r="2.8" fill="#111"/><path d="M103.69,313.64L106.99,319.38L100.39,319.38Z" fill="#111"/><path d="M103.69,316.29L104.94,318.47L102.44,318.47Z" fill="#fff"/><circle cx="111.85" cy="339.7" r="2.8" fill="#111"/><path d="M111.85,338.44L115.15,344.18L108.55,344.18Z" fill="#111"/><path d="M111.85,341.09L113.1,343.27L110.6,343.27Z" fill="#fff"/><circle cx="120" cy="354.3" r="2.8" fill="#111"/><path d="M120,353.04L123.3,358.78L116.7,358.78Z" fill="#111"/><path d="M120,355.69L121.25,357.87L118.75,357.87Z" fill="#fff"/><circle cx="128.16" cy="361.3" r="2.8" fill="#111"/><path d="M128.16,360.04L131.46,365.78L124.86,365.78Z" fill="#111"/><path d="M128.16,362.69L129.41,364.87L126.91,364.87Z" fill="#fff"/><circle cx="136.31" cy="363.3" r="2.8" fill="#111"/><path d="M136.31,362.04L139.61,367.78L133.01,367.78Z" fill="#111"/><path d="M136.31,364.69L137.56,366.87L135.06,366.87Z" fill="#fff"/><circle cx="144.46" cy="355.3" r="2.8" fill="#111"/><path d="M144.46,354.04L147.76,359.78L141.16,359.78Z" fill="#111"/><path d="M144.46,356.69L145.71,358.87L143.21,358.87Z" fill="#fff"/><circle cx="152.62" cy="342" r="2.8" fill="#111"/><path d="M152.62,340.74L155.92,346.48L149.32,346.48Z" fill="#111"/><path d="M152.62,343.39L153.87,345.57L151.37,345.57Z" fill="#fff"/><circle cx="160.77" cy="317.1" r="2.8" fill="#111"/><path d="M160.77,315.84L164.07,321.58L157.47,321.58Z" fill="#111"/><path d="M160.77,318.49L162.02,320.67L159.52,320.67Z" fill="#fff"/><circle cx="168.93" cy="292" r="3" fill="#111"/><circle cx="168.93" cy="289.5" r="2.3" fill="#fff" stroke="#111" stroke-width="1.15"/><path d="M168.93,283.85L172.13,289.42L165.73,289.42Z" fill="#111"/><path d="M168.93,282.48L171.73,287.35L166.13,287.35Z" fill="#fff" stroke="#111" stroke-width="1.1" stroke-linejoin="miter"/><circle cx="177.08" cy="268" r="3" fill="#111"/><circle cx="177.08" cy="263.9" r="2.3" fill="#fff" stroke="#111" stroke-width="1.15"/><path d="M177.08,254.35L180.28,259.92L173.88,259.92Z" fill="#111"/><path d="M177.08,252.48L179.88,257.35L174.28,257.35Z" fill="#fff" stroke="#111" stroke-width="1.1" stroke-linejoin="miter"/><circle cx="185.23" cy="251.1" r="3" fill="#111"/><circle cx="185.23" cy="244.4" r="2.3" fill="#fff" stroke="#111" stroke-width="1.15"/><path d="M185.23,230.95L188.43,236.52L182.03,236.52Z" fill="#111"/><path d="M185.23,227.58L188.03,232.45L182.43,232.45Z" fill="#fff" stroke="#111" stroke-width="1.1" stroke-linejoin="miter"/><path d="M183.43,227h3.6" stroke="#111" stroke-width="1"/><circle cx="193.39" cy="238.8" r="3" fill="#111"/><circle cx="193.39" cy="229.6" r="2.3" fill="#fff" stroke="#111" stroke-width="1.15"/><path d="M193.39,217.05L196.59,222.62L190.19,222.62Z" fill="#111"/><path d="M193.39,213.78L196.19,218.65L190.59,218.65Z" fill="#fff" stroke="#111" stroke-width="1.1" stroke-linejoin="miter"/><path d="M191.59,213.2h3.6" stroke="#111" stroke-width="1"/><circle cx="201.54" cy="232.3" r="3" fill="#111"/><circle cx="201.54" cy="221.8" r="2.3" fill="#fff" stroke="#111" stroke-width="1.15"/><path d="M201.54,208.35L204.74,213.92L198.34,213.92Z" fill="#111"/><path d="M201.54,202.58L204.34,207.45L198.74,207.45Z" fill="#fff" stroke="#111" stroke-width="1.1" stroke-linejoin="miter"/><path d="M199.74,202h3.6" stroke="#111" stroke-width="1"/><circle cx="209.7" cy="229.6" r="3" fill="#111"/><circle cx="209.7" cy="216.8" r="2.3" fill="#fff" stroke="#111" stroke-width="1.15"/><path d="M209.7,204.95L212.9,210.52L206.5,210.52Z" fill="#111"/><path d="M209.7,198.18L212.5,203.05L206.9,203.05Z" fill="#fff" stroke="#111" stroke-width="1.1" stroke-linejoin="miter"/><path d="M207.9,197.6h3.6" stroke="#111" stroke-width="1"/><path d="M217.85,225.9v8.4M216.35,225.9h3M216.35,234.3h3" stroke="#111" stroke-width="1" fill="none"/><circle cx="217.85" cy="230.1" r="3" fill="#111"/><circle cx="217.85" cy="216.8" r="2.3" fill="#fff" stroke="#111" stroke-width="1.15"/><path d="M217.85,203.35L221.05,208.92L214.65,208.92Z" fill="#111"/><path d="M217.85,197.98L220.65,202.85L215.05,202.85Z" fill="#fff" stroke="#111" stroke-width="1.1" stroke-linejoin="miter"/><path d="M216.05,197.4h3.6" stroke="#111" stroke-width="1"/><path d="M226,228.8v8.4M224.5,228.8h3M224.5,237.2h3" stroke="#111" stroke-width="1" fill="none"/><circle cx="226" cy="233" r="3" fill="#111"/><circle cx="226" cy="220.5" r="2.3" fill="#fff" stroke="#111" stroke-width="1.15"/><path d="M226,205.85L229.2,211.42L222.8,211.42Z" fill="#111"/><path d="M226,199.18L228.8,204.05L223.2,204.05Z" fill="#fff" stroke="#111" stroke-width="1.1" stroke-linejoin="miter"/><path d="M224.2,198.6h3.6" stroke="#111" stroke-width="1"/><path d="M234.16,233.2v8.4M232.66,233.2h3M232.66,241.6h3" stroke="#111" stroke-width="1" fill="none"/><circle cx="234.16" cy="237.4" r="3" fill="#111"/><circle cx="234.16" cy="225.5" r="2.3" fill="#fff" stroke="#111" stroke-width="1.15"/><path d="M234.16,210.25L237.36,215.82L230.96,215.82Z" fill="#111"/><path d="M234.16,204.48L236.96,209.35L231.36,209.35Z" fill="#fff" stroke="#111" stroke-width="1.1" stroke-linejoin="miter"/><path d="M232.36,203.9h3.6" stroke="#111" stroke-width="1"/><path d="M242.31,239.3v8.4M240.81,239.3h3M240.81,247.7h3" stroke="#111" stroke-width="1" fill="none"/><circle cx="242.31" cy="243.5" r="3" fill="#111"/><circle cx="242.31" cy="231" r="2.3" fill="#fff" stroke="#111" stroke-width="1.15"/><path d="M242.31,215.55L245.51,221.12L239.11,221.12Z" fill="#111"/><path d="M242.31,208.98L245.11,213.85L239.51,213.85Z" fill="#fff" stroke="#111" stroke-width="1.1" stroke-linejoin="miter"/><path d="M240.51,208.4h3.6" stroke="#111" stroke-width="1"/><path d="M250.47,245.1v8.4M248.97,245.1h3M248.97,253.5h3" stroke="#111" stroke-width="1" fill="none"/><circle cx="250.47" cy="249.3" r="3" fill="#111"/><circle cx="250.47" cy="236.4" r="2.3" fill="#fff" stroke="#111" stroke-width="1.15"/><path d="M250.47,222.75L253.67,228.32L247.27,228.32Z" fill="#111"/><path d="M250.47,213.38L253.27,218.25L247.67,218.25Z" fill="#fff" stroke="#111" stroke-width="1.1" stroke-linejoin="miter"/><path d="M248.67,212.8h3.6" stroke="#111" stroke-width="1"/><path d="M258.62,250.2v8.4M257.12,250.2h3M257.12,258.6h3" stroke="#111" stroke-width="1" fill="none"/><circle cx="258.62" cy="254.4" r="3" fill="#111"/><circle cx="258.62" cy="245.4" r="2.3" fill="#fff" stroke="#111" stroke-width="1.15"/><path d="M258.62,229.35L261.82,234.92L255.42,234.92Z" fill="#111"/><path d="M258.62,223.78L261.42,228.65L255.82,228.65Z" fill="#fff" stroke="#111" stroke-width="1.1" stroke-linejoin="miter"/><path d="M266.77,256.5v8.4M265.27,256.5h3M265.27,264.9h3" stroke="#111" stroke-width="1" fill="none"/><circle cx="266.77" cy="260.7" r="3" fill="#111"/><circle cx="266.77" cy="252" r="2.3" fill="#fff" stroke="#111" stroke-width="1.15"/><path d="M266.77,233.55L269.97,239.12L263.57,239.12Z" fill="#111"/><path d="M266.77,226.78L269.57,231.65L263.97,231.65Z" fill="#fff" stroke="#111" stroke-width="1.1" stroke-linejoin="miter"/><path d="M274.93,262.3v8.4M273.43,262.3h3M273.43,270.7h3" stroke="#111" stroke-width="1" fill="none"/><circle cx="274.93" cy="266.5" r="3" fill="#111"/><circle cx="274.93" cy="261" r="2.3" fill="#fff" stroke="#111" stroke-width="1.15"/><path d="M274.93,243.35L278.13,248.92L271.73,248.92Z" fill="#111"/><path d="M274.93,234.98L277.73,239.85L272.13,239.85Z" fill="#fff" stroke="#111" stroke-width="1.1" stroke-linejoin="miter"/><circle cx="283.08" cy="273.8" r="3" fill="#111"/><circle cx="283.08" cy="263" r="2.3" fill="#fff" stroke="#111" stroke-width="1.15"/><path d="M283.08,250.95L286.28,256.52L279.88,256.52Z" fill="#111"/><path d="M283.08,244.98L285.88,249.85L280.28,249.85Z" fill="#fff" stroke="#111" stroke-width="1.1" stroke-linejoin="miter"/><circle cx="291.24" cy="282" r="3" fill="#111"/><circle cx="291.24" cy="271.2" r="2.3" fill="#fff" stroke="#111" stroke-width="1.15"/><path d="M291.24,225.95L294.44,231.52L288.04,231.52Z" fill="#111"/><path d="M291.24,263.98L294.04,268.85L288.44,268.85Z" fill="#fff" stroke="#111" stroke-width="1.1" stroke-linejoin="miter"/><circle cx="299.39" cy="279.2" r="3" fill="#111"/><circle cx="308" cy="220.9" r="3" fill="#111"/></g>
</svg>
</body></html>
